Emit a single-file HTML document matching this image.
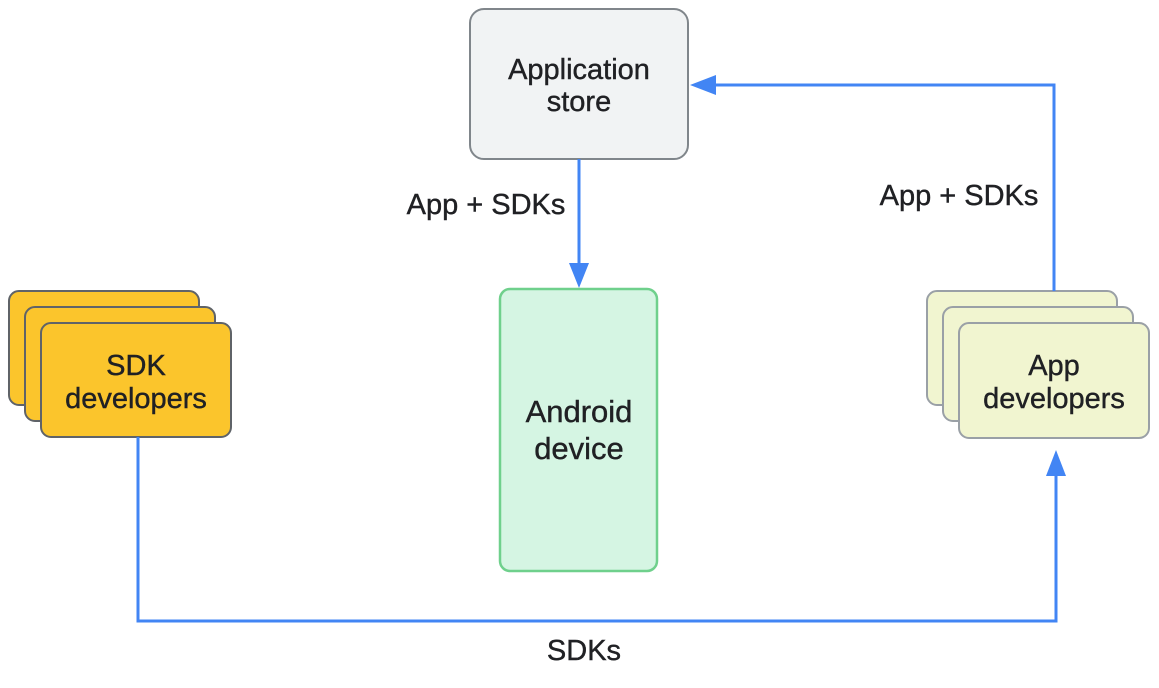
<!DOCTYPE html>
<html><head><meta charset="utf-8"><style>
html,body{margin:0;padding:0;background:#fff;}
svg text{font-family:"Liberation Sans",sans-serif;font-size:29px;fill:#202124;text-anchor:middle;stroke:#202124;stroke-width:0.4;}
</style></head><body>
<svg width="1159" height="683" viewBox="0 0 1159 683" xmlns="http://www.w3.org/2000/svg">
<rect x="470" y="9" width="218" height="150" rx="14" fill="#f1f3f4" stroke="#80868b" stroke-width="2"/>
<text x="579" y="79">Application</text>
<text x="579" y="111">store</text>
<line x1="579" y1="159" x2="579" y2="266" stroke="#4285f4" stroke-width="3"/>
<polygon points="569,263 589,263 579,288" fill="#4285f4"/>
<text x="486" y="214">App + SDKs</text>
<rect x="500" y="289" width="157" height="282" rx="10" fill="#d5f5e3" stroke="#6fd08c" stroke-width="2.5"/>
<text x="579" y="422" style="font-size:31px">Android</text>
<text x="579" y="459" style="font-size:31px">device</text>
<rect x="9" y="291" width="190" height="114" rx="10" fill="#fbc52c" stroke="#5f6368" stroke-width="2"/>
<rect x="25" y="307" width="190" height="114" rx="10" fill="#fbc52c" stroke="#5f6368" stroke-width="2"/>
<rect x="41" y="323" width="190" height="114" rx="10" fill="#fbc52c" stroke="#5f6368" stroke-width="2"/>
<text x="136" y="375">SDK</text>
<text x="136" y="408">developers</text>
<rect x="927" y="291" width="190" height="114" rx="10" fill="#f1f5d0" stroke="#9aa0a6" stroke-width="2"/>
<rect x="943" y="307" width="190" height="114" rx="10" fill="#f1f5d0" stroke="#9aa0a6" stroke-width="2"/>
<rect x="959" y="323" width="190" height="115" rx="10" fill="#f1f5d0" stroke="#9aa0a6" stroke-width="2"/>
<text x="1054" y="375">App</text>
<text x="1054" y="408">developers</text>
<polyline points="138,437 138,621 1056,621 1056,474" fill="none" stroke="#4285f4" stroke-width="3"/>
<polygon points="1046,476 1066,476 1056,450" fill="#4285f4"/>
<text x="584" y="660">SDKs</text>
<polyline points="1054,291 1054,85 714,85" fill="none" stroke="#4285f4" stroke-width="3"/>
<polygon points="716,75 716,95 690,85" fill="#4285f4"/>
<text x="959" y="205">App + SDKs</text>
</svg>
</body></html>
